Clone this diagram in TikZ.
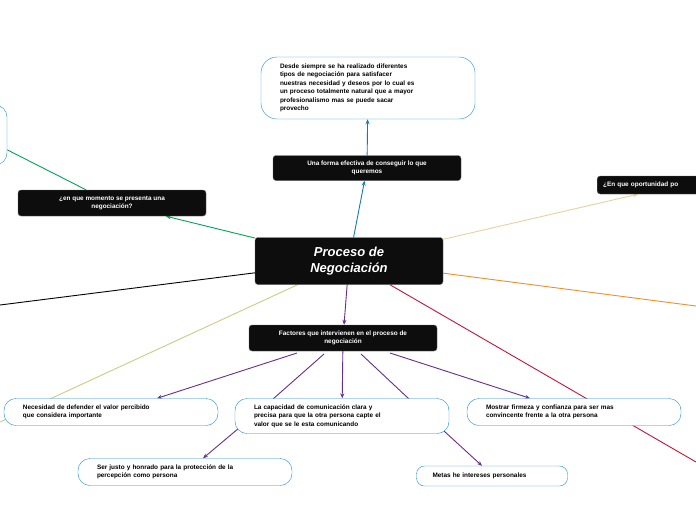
\documentclass[tikz,border=0pt]{standalone}
\usepackage{fontspec}
\setmainfont{Liberation Sans}
\usetikzlibrary{arrows.meta,backgrounds}
\definecolor{topicblue}{RGB}{30,140,215}
\definecolor{linkblue}{RGB}{20,120,190}
\definecolor{linkgreen}{RGB}{0,165,80}
\definecolor{linktan}{RGB}{230,210,160}
\definecolor{linkolive}{RGB}{200,205,130}
\definecolor{linkorange}{RGB}{245,140,40}
\definecolor{linkred}{RGB}{200,20,50}
\definecolor{linkpurple}{RGB}{105,45,145}
\tikzset{
  black box/.style={fill=black!95,draw=black!60,rounded corners=3pt,text=white,
    font=\bfseries\fontsize{6.4}{8.5}\selectfont,align=center,inner sep=2pt},
  white box/.style={fill=white,draw=topicblue,rounded corners=12pt,text=black,
    font=\bfseries\fontsize{6.4}{8.5}\selectfont,align=left,inner xsep=19pt,inner ysep=3pt,
    text width=176pt},
  link/.style={line width=0.9pt,-{Stealth[length=5pt,width=4pt]}}
}
\begin{document}
\begin{tikzpicture}[x=1pt,y=-1pt]
\useasboundingbox (0,0) rectangle (696,520);
\clip (0,0) rectangle (696,520);

\node (main) at (349,261) [black box,minimum width=188pt,minimum height=47pt,
  font=\bfseries\itshape\fontsize{13}{16}\selectfont]{Proceso de\\Negociación};

\node (forma) at (367,168) [black box,minimum width=188pt,minimum height=25pt]{Una forma efectiva de conseguir lo que\\queremos};
\node (desde) at (368,88) [white box,minimum height=62pt,rounded corners=16pt]{Desde siempre se ha realizado diferentes\\tipos de negociación para satisfacer\\nuestras necesidad y deseos por lo cual es\\un proceso totalmente natural que a mayor\\profesionalismo mas se puede sacar\\provecho};

\node (momento) at (112,203) [black box,minimum width=188pt,minimum height=26pt]{¿en que momento se presenta una\\negociación?};
\node (izq) at (-22,135) [white box,text width=20pt,minimum height=60pt]{};

\node (oport) at (597,185) [black box,anchor=west,minimum height=18pt,text width=120pt,align=left,inner xsep=6pt]{¿En que oportunidad po};

\node (factores) at (343,338) [black box,minimum width=188pt,minimum height=26pt]{Factores que intervienen en el proceso de\\negociación};
\node (necesidad) at (111,412) [white box,minimum height=27pt]{Necesidad de defender el valor percibido\\que considera importante};
\node (capacidad) at (342,416) [white box,minimum height=35pt]{La capacidad de comunicación clara y\\precisa para que la otra persona capte el\\valor que se le esta comunicando};
\node (mostrar) at (574,412) [white box,minimum height=27pt]{Mostrar firmeza y confianza para ser mas\\convincente frente a la otra persona};
\node (justo) at (185,472) [white box,minimum height=27pt]{Ser justo y honrado para la protección de la\\percepción como persona};
\node (metas) at (492,476) [white box,text width=119pt,inner xsep=16pt,minimum height=20pt,rounded corners=8pt]{Metas he intereses personales};

\coordinate (offA) at (0,305);
\coordinate (offB) at (0,422);
\coordinate (offC) at (696,306);
\coordinate (offD) at (696,462);
% puntos de salida de los factores
\coordinate (f1) at (297,353);
\coordinate (f2) at (324,354);
\coordinate (f4) at (361,354);
\coordinate (f5) at (390,353);
\coordinate (c2) at (273,399);
\coordinate (c4) at (409,399);
\coordinate (cl) at (239,428);
\coordinate (cr) at (444,431);

\begin{scope}[on background layer]
% ramas del nodo central
\draw [link,linkblue] (main) -- (forma);
\draw [link,linkblue] (forma) -- (desde);
\draw [link,linkgreen] (main) -- (momento);
\draw [line width=0.9pt,linkgreen] (momento) -- (izq);
\draw [link,linktan] (main) -- (oport.200);
\draw [line width=0.9pt,black] (main) -- (offA);
\draw [line width=0.9pt,linkolive] (main) -- (offB);
\draw [line width=0.9pt,linkorange] (main) -- (offC);
\draw [line width=0.9pt,linkred] (main) -- (offD);
\draw [link,linkpurple] (main) -- (factores);

% factores
\draw [link,linkpurple] (f1) -- (necesidad.north -| 157,0);
\draw [line width=0.9pt,linkpurple] (f2) -- (c2);
\draw [link,linkpurple] (factores) -- (capacidad);
\draw [line width=0.9pt,linkpurple] (f4) -- (c4);
\draw [link,linkpurple] (f5) -- (mostrar.north -| 530,0);
\draw [link,linkpurple] (cl) -- (justo.north -| 203,0);
\draw [link,linkpurple] (cr) -- (metas.north -| 482,0);
\end{scope}
\end{tikzpicture}
\end{document}
